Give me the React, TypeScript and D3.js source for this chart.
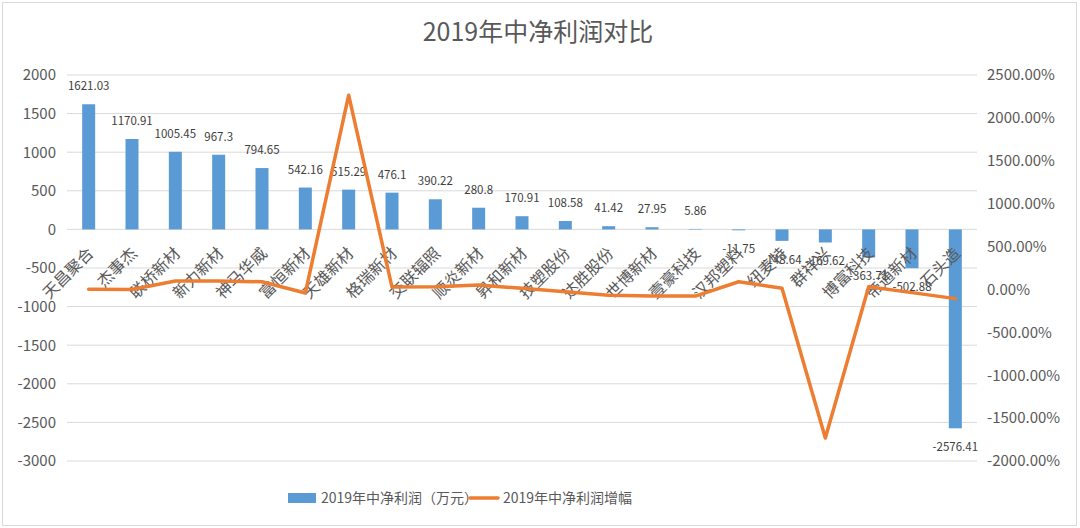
import React, { useEffect, useRef } from "react";
import * as d3 from "d3";

const categories = [
  "天昌聚合", "杰事杰", "联桥新材", "新力新材", "神马华威", "富恒新材", "天雄新材",
  "格瑞新材", "交联辐照", "顺炎新材", "昇和新材", "技塑股份", "达胜股份", "世博新材",
  "壹豪科技", "汉邦塑料", "纽麦特", "群祥兴", "博富科技", "帝通新材", "石头造",
];

// 2019年中净利润（万元）
const profit = [
  1621.03, 1170.91, 1005.45, 967.3, 794.65, 542.16, 515.29, 476.1, 390.22, 280.8,
  170.91, 108.58, 41.42, 27.95, 5.86, -11.75, -148.64, -169.62, -363.71, -502.88, -2576.41,
];

// 2019年中净利润增幅 (%)
const growth = [
  2, -1, 98, 98, 90, -42, 2265, 28, 32, 51, 13, -27, -69, -77, -77, 90, 13, -1732, 32, -37, -107,
];

const leftTicks = [2000, 1500, 1000, 500, 0, -500, -1000, -1500, -2000, -2500, -3000];
const rightTicks = [2500, 2000, 1500, 1000, 500, 0, -500, -1000, -1500, -2000];

const W = 1080;
const H = 528;
const FONT = "'Noto Sans CJK SC', 'Noto Sans', sans-serif";
const TEXT = "#595959";

export default function App() {
  const ref = useRef<SVGSVGElement>(null);

  useEffect(() => {
    const svg = d3.select(ref.current);
    svg.selectAll("*").remove();

    const plot = { left: 67, right: 977, top: 75, bottom: 461 };

    const x = d3.scaleBand<string>()
      .domain(categories)
      .range([plot.left, plot.right])
      .paddingInner(0.7)
      .paddingOuter(0.35);

    const y = d3.scaleLinear().domain([-3000, 2000]).range([plot.bottom, plot.top]);
    const y2 = d3.scaleLinear().domain([-2000, 2500]).range([plot.bottom, plot.top]);

    // frame
    svg.append("rect")
      .attr("x", 2.5).attr("y", 2.5)
      .attr("width", W - 6).attr("height", H - 5)
      .attr("fill", "#fff").attr("stroke", "#d9d9d9");

    // title
    svg.append("text")
      .attr("x", 538).attr("y", 41)
      .attr("text-anchor", "middle")
      .attr("font-family", FONT).attr("font-size", 25)
      .attr("fill", TEXT)
      .text("2019年中净利润对比");

    // grid
    svg.append("g").selectAll("line").data(leftTicks).join("line")
      .attr("x1", plot.left).attr("x2", plot.right)
      .attr("y1", d => y(d)).attr("y2", d => y(d))
      .attr("stroke", "#d9d9d9").attr("stroke-width", 1);

    // left axis
    const leftAxis = d3.axisLeft(y).tickValues(leftTicks).tickSize(0).tickPadding(11)
      .tickFormat(d => String(d));
    const gl = svg.append("g").attr("transform", `translate(${plot.left},0)`).call(leftAxis);
    gl.select(".domain").remove();
    gl.selectAll("text").attr("font-family", FONT).attr("font-size", 15).attr("fill", TEXT);

    // right axis
    const rightAxis = d3.axisRight(y2).tickValues(rightTicks).tickSize(0).tickPadding(10)
      .tickFormat(d => `${(+d).toFixed(2)}%`);
    const gr = svg.append("g").attr("transform", `translate(${plot.right},0)`).call(rightAxis);
    gr.select(".domain").remove();
    gr.selectAll("text").attr("font-family", FONT).attr("font-size", 15).attr("fill", TEXT);

    // bars
    svg.append("g").selectAll("rect").data(profit).join("rect")
      .attr("x", (d, i) => x(categories[i])!)
      .attr("width", x.bandwidth())
      .attr("y", d => y(Math.max(0, d)))
      .attr("height", d => Math.abs(y(d) - y(0)))
      .attr("fill", "#5b9bd5");

    // bar labels
    svg.append("g").selectAll("text").data(profit).join("text")
      .attr("x", (d, i) => x(categories[i])! + x.bandwidth() / 2)
      .attr("y", d => (d >= 0 ? y(d) - 14 : y(d) + 23))
      .attr("text-anchor", "middle")
      .attr("font-family", FONT).attr("font-size", 11.5)
      .attr("fill", "#404040")
      .text(d => String(d));

    // category labels
    svg.append("g").selectAll("text").data(categories).join("text")
      .attr("transform", d => `translate(${x(d)! + x.bandwidth() / 2 + 6},${y(0) + 25}) rotate(-45)`)
      .attr("text-anchor", "end")
      .attr("font-family", FONT).attr("font-size", 16)
      .attr("fill", TEXT)
      .text(d => d);

    // growth line
    const line = d3.line<number>()
      .x((d, i) => x(categories[i])! + x.bandwidth() / 2)
      .y(d => y2(d));
    svg.append("path")
      .datum(growth)
      .attr("d", line)
      .attr("fill", "none")
      .attr("stroke", "#ed7d31")
      .attr("stroke-width", 3.5)
      .attr("stroke-linejoin", "round")
      .attr("stroke-linecap", "round");

    // legend
    const lg = svg.append("g").attr("font-family", FONT).attr("font-size", 14).attr("fill", TEXT);
    lg.append("rect").attr("x", 288).attr("y", 493).attr("width", 28).attr("height", 10).attr("fill", "#5b9bd5");
    lg.append("text").attr("x", 321).attr("y", 503).text("2019年中净利润（万元）");
    lg.append("line").attr("x1", 470).attr("x2", 498).attr("y1", 498).attr("y2", 498)
      .attr("stroke", "#ed7d31").attr("stroke-width", 3.5).attr("stroke-linecap", "round");
    lg.append("text").attr("x", 503).attr("y", 503).text("2019年中净利润增幅");
  }, []);

  return (
    <svg
      ref={ref}
      width={W}
      height={H}
      style={{ position: "absolute", left: 0, top: 0, background: "#fff" }}
    />
  );
}
